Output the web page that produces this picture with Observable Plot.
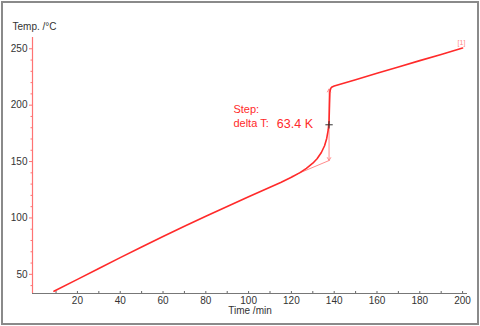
<!DOCTYPE html>
<html><head><meta charset="utf-8">
<script src="https://cdn.jsdelivr.net/npm/d3@7"></script>
<script src="https://cdn.jsdelivr.net/npm/@observablehq/plot@0.6"></script>
<style>
body{margin:0;background:#fff;}
#chart svg{display:block;outline:2px solid #8a8a8a;outline-offset:-3px;}
</style>
</head><body><div id="chart"></div>
<script>
// Data
const curveTime = [9, 20, 30, 40, 50, 60, 70, 80, 90, 100, 110, 115, 120, 124, 127, 130, 132, 134, 135.5, 136.5, 137.2, 137.6, 137.8, 138, 138.4, 139, 140, 150, 160, 170, 180, 190, 200];
const curveTemp = [35, 45.5, 55.2, 64.8, 74.3, 83.6, 92.6, 101.5, 110.2, 118.8, 127.3, 131.5, 136.0, 140.2, 144.0, 148.5, 152.5, 158.0, 164, 170.5, 178, 186, 200, 212, 215, 216.2, 217.0, 222.6, 228.3, 233.9, 239.5, 245.0, 250.6];
const tangentTime = [120, 137.6];
const tangentTemp = [136.8, 150.9];
const stepTime = 137.6;
const stepLow = 150.9;
const stepHigh = 214.3;
const stepMidTemp = 182.6;
const xDomain = [-1, 202.3];
const yDomain = [33, 260];
const xMajorTicks = [20, 40, 60, 80, 100, 120, 140, 160, 180, 200];
const xMinorTicks = [10, 30, 50, 70, 90, 110, 130, 150, 170, 190];
const yMajorTicks = [50, 100, 150, 200, 250];
const yMinorTicks = [40, 60, 70, 80, 90, 110, 120, 130, 140, 160, 170, 180, 190, 210, 220, 230, 240];
const yLabel = "Temp. /°C";
const xLabel = "Time /min";
const stepTitle = "Step:";
const deltaLabel = "delta T:";
const deltaValue = "63.4 K";
const curveTag = "[1]";
const annotX = 92.9, annotY1 = 196, annotY2 = 183.6, valueX = 113.2;

const curve = curveTime.map((t, i) => ({t, v: curveTemp[i]}));
const tangent = tangentTime.map((t, i) => ({t, v: tangentTemp[i]}));
const red = "#ff2a2a", light = "#ff8c8c", axisRed = "#ff7373";
const font = "Liberation Sans, Arial, sans-serif";

const chart = Plot.plot({
  width: 480, height: 326,
  marginLeft: 32, marginRight: 13, marginTop: 37, marginBottom: 33,
  style: {fontFamily: font, fontSize: "10px", background: "#fff"},
  x: {domain: xDomain, axis: null},
  y: {domain: yDomain, axis: null},
  marks: [
    Plot.ruleY([yDomain[0]], {stroke: "#777", strokeWidth: 1.2}),
    Plot.ruleX([xDomain[0]], {stroke: axisRed, strokeWidth: 1.2}),
    Plot.axisX({ticks: xMinorTicks, tickSize: -2, tickFormat: () => "", stroke: "#666", label: null}),
    Plot.axisX({ticks: xMajorTicks, tickSize: -2, tickPadding: 5, stroke: "#666", fill: "#333", fontSize: 10, label: null}),
    Plot.axisY({ticks: yMinorTicks, tickSize: 1.5, tickFormat: () => "", stroke: axisRed, label: null}),
    Plot.axisY({ticks: yMajorTicks, tickSize: 3, tickPadding: 2, stroke: axisRed, fill: "#333", fontSize: 10, label: null}),
    Plot.text([yLabel], {frameAnchor: "top-left", dx: -20, dy: -15, textAnchor: "start", fill: "#333", fontSize: 10}),
    Plot.text([xLabel], {frameAnchor: "bottom", dy: 20, fill: "#333", fontSize: 10}),
    Plot.line(tangent, {x: "t", y: "v", stroke: light, strokeWidth: 1}),
    Plot.arrow([{t: stepTime, a: stepMidTemp, b: stepLow}, {t: stepTime, a: stepMidTemp, b: stepHigh}], {x1: "t", y1: "a", x2: "t", y2: "b", stroke: light, strokeWidth: 1, headLength: 5}),
    Plot.line(curve, {x: "t", y: "v", stroke: red, strokeWidth: 1.6}),
    Plot.dot([{t: stepTime, v: stepMidTemp}], {x: "t", y: "v", symbol: "plus", r: 2.5, stroke: "#333", strokeWidth: 1}),
    Plot.text([stepTitle], {x: [annotX], y: [annotY1], textAnchor: "start", fill: red, fontSize: 11}),
    Plot.text([deltaLabel], {x: [annotX], y: [annotY2], textAnchor: "start", fill: red, fontSize: 11}),
    Plot.text([deltaValue], {x: [valueX], y: [annotY2], textAnchor: "start", fill: red, fontSize: 12.5}),
    Plot.text([curveTag], {x: [199.5], y: [255.5], fill: light, fontSize: 7})
  ]
});
document.getElementById("chart").append(chart);
</script>
</body></html>
